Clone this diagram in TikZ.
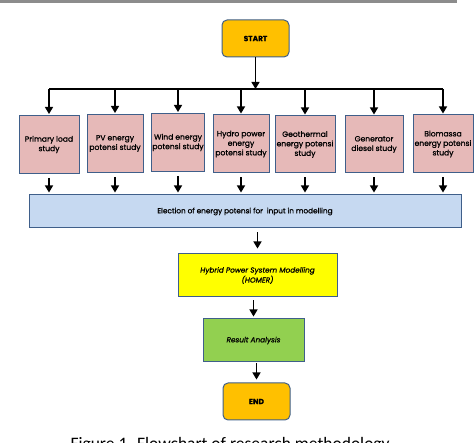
\documentclass[tikz,border=0pt]{standalone}
\usepackage{fontspec}
\setmainfont[FakeBold=1]{Poppins}
\newfontfamily\capfont{Carlito}
\usetikzlibrary{arrows.meta}
\definecolor{startorange}{HTML}{FFC000}
\definecolor{studypink}{HTML}{E6B9B8}
\definecolor{electblue}{HTML}{C6D9F1}
\definecolor{modelyellow}{HTML}{FFFF00}
\definecolor{resultgreen}{HTML}{92D050}
\definecolor{boxline}{HTML}{3F5F8A}
\begin{document}
\begin{tikzpicture}[x=1pt, y=-1pt,
	every node/.style={draw=boxline, line width=1pt, align=center, inner sep=1pt, font=\fontsize{7.6}{9.5}\selectfont},
	flowarrow/.style={-{Triangle[length=7pt,width=8pt]}, line width=1.2pt, black},
	study/.style={fill=studypink, minimum height=58pt}]
	\useasboundingbox (0,0) rectangle (474,443);
	\fill[gray!90] (0,0) rectangle (457,3);
	
	\node[fill=startorange, rounded corners=5pt, minimum width=67pt, minimum height=37pt, font=\fontsize{7.4}{9}\selectfont\bfseries] at (255.5,38.5) (start) {START};
	
	\node[study, minimum width=60pt] at (49,144.5) (load) {Primary load\\study};
	\node[study, minimum width=56pt] at (115,143.5) (pv) {PV energy\\potensi study};
	\node[study, minimum width=52pt] at (178,142.5) (wind) {Wind energy\\potensi study};
	\node[study, minimum width=56pt] at (241,144) (hydro) {Hydro power\\energy\\potensi study};
	\node[study, minimum width=60pt, minimum height=57pt] at (305,144.5) (geo) {Geothermal\\energy potensi\\study};
	\node[study, minimum width=58pt, minimum height=57pt] at (374,144.5) (diesel) {Generator\\diesel study};
	\node[study, minimum width=60pt] at (443,144) (bio) {Biomassa\\energy potensi\\study};
	
	\node[fill=electblue, minimum width=432pt, minimum height=33pt, font=\fontsize{7.3}{9}\selectfont] at (245,211.5) (elect) {Election of energy potensi for \ input in modelling};
	\node[fill=modelyellow, minimum width=159pt, minimum height=43pt, font=\fontsize{7.3}{10}\selectfont\itshape] at (257.5,275.5) (homer) {Hybrid Power System Modelling\\(HOMER)};
	\node[fill=resultgreen, minimum width=101pt, minimum height=43pt, font=\fontsize{7.3}{9}\selectfont\itshape] at (253.5,340.5) (result) {Result Analysis};
	\node[fill=startorange, rounded corners=5pt, minimum width=67pt, minimum height=37pt, font=\fontsize{7.4}{9}\selectfont\bfseries] at (256.5,401.5) (end) {END};
	
	\coordinate (split) at (255.5,89);
	\draw[flowarrow] (start) -- (split);
	\draw[line width=1.2pt] (49,89) -- (443,89);
	\foreach \sname in {load,pv,wind,hydro,geo,diesel,bio}{
		\draw[flowarrow, shorten >=1pt] (split -| \sname.north) -- (\sname.north);
		\draw[flowarrow, shorten <=4pt, shorten >=2pt] (\sname.south) -- (\sname.south |- elect.north);
	}
	\draw[flowarrow, shorten <=4pt, shorten >=5pt] (elect.south -| homer.north) -- (homer.north);
	\draw[flowarrow, shorten <=3pt, shorten >=2pt] (homer.south -| result.north) -- (result.north);
	\draw[flowarrow, shorten <=1pt, shorten >=3pt] (result.south -| end.north) -- (end.north);
	
	\begin{scope}
		\clip (0,426) rectangle (474,443);
		\node[draw=none, anchor=north west, inner sep=0pt, font=\capfont\fontsize{17.5}{18}\selectfont] at (70,436.5) (caption) {Figure 1. Flowchart of research methodology};
	\end{scope}
\end{tikzpicture}
\end{document}
